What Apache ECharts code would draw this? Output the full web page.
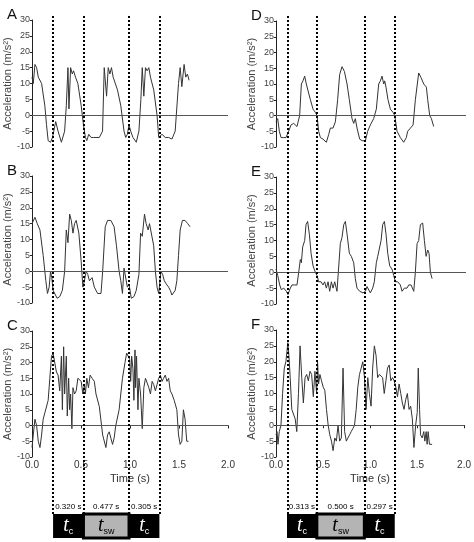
<!DOCTYPE html>
<html>
<head>
<meta charset="utf-8">
<script src="https://cdn.jsdelivr.net/npm/echarts@6/dist/echarts.min.js"></script>
<style>html,body{margin:0;padding:0;background:#fff}#main{width:474px;height:542px}</style>
</head>
<body>
<div id="main"></div>
<script>
// panel A
var aT = [0,.013,.03,.047,.064,.098,.131,.148,.165,.189,.209,.222,.242,.266,.30,.333,.35,.367,.377,.394,.411,.424,.444,.468,.502,.525,.545,.559,.579,.603,.626,.653,.687,.72,.737,.761,.778,.795,.811,.828,.848,.872,.906,.939,.956,.973,.99,1.007,1.03,1.064,1.091,1.111,1.125,1.141,1.158,1.175,1.192,1.209,1.242,1.276,1.293,1.31,1.327,1.36,1.394,1.428,1.461,1.495,1.512,1.529,1.552,1.569,1.586,1.603];
var aY = [12,10,16,15,12,10,3,-3,-8,-8.5,-7,-5,-2,-5,-8.5,-5,3,15,2,15,13,14,12,10,3,-3,-7,-8,-6,-7,-7,-7,-7,-5,15,6,15,13,15,12,12,8,3,-5,-7,-6,-3,-5,-7,-8.5,-5,5,15,6,15,14,15,12,8,0,-7,-7,-6,-7,-7,-7.5,-5,10,15,9,16,12,13,11];
// panel B
var bT = [0,.03,.054,.081,.114,.141,.158,.175,.189,.202,.215,.232,.256,.283,.31,.333,.35,.367,.384,.401,.418,.434,.451,.478,.502,.519,.535,.552,.569,.586,.613,.636,.67,.704,.721,.747,.771,.805,.838,.862,.889,.906,.923,.939,.956,.973,.99,1.013,1.04,1.064,1.091,1.108,1.125,1.148,1.165,1.185,1.199,1.219,1.242,1.259,1.276,1.293,1.316,1.333,1.35,1.37,1.394,1.411,1.428,1.461,1.478,1.495,1.512,1.535,1.562,1.589,1.613];
var bY = [15,17,15,13,5,-3,-7,-5,0,-2,-6,-6,-8.5,-8,-6,0,13,9,18,16,12,15,16,12,3,-5,-3,0,-1,-3,-2,-5,-7,-7,0,14,16,16,14,8,0,-3,-7,1,1,-5,-4,-8.5,-8,-6,-1,12,11,18,15,13,15,15,8,0,-5,-7,0,-1,-3,-4,-5,-6,-7.5,-6,-3,5,13,16,16,15,14];
// panel C
var cT = [0,.013,.03,.047,.064,.081,.098,.114,.131,.148,.165,.182,.199,.215,.232,.249,.266,.283,.30,.31,.323,.333,.35,.36,.374,.384,.394,.407,.418,.434,.451,.468,.485,.502,.519,.535,.545,.559,.576,.593,.613,.636,.653,.687,.721,.754,.771,.788,.805,.822,.838,.855,.889,.923,.949,.966,.983,.997,1.007,1.017,1.03,1.04,1.051,1.057,1.067,1.081,1.091,1.108,1.125,1.141,1.158,1.175,1.192,1.209,1.226,1.242,1.259,1.276,1.293,1.31,1.327,1.343,1.36,1.377,1.394,1.411,1.428,1.451,1.478,1.495,1.512,1.529,1.545,1.562,1.579,1.596];
var cY = [-7,-3,2,0,-5,-7,-3,2,4,4.5,8,15,22,23,23,17,16,11,22,5,25,10,22,3,15,5,10,-1,12,10,11,15,15,14,10,13,10,15,12,16,15,14,10,6,-3,-7,-3,-2,-4,-6,-4,0,5,15,20,23,23,21,14,22,18,8,24,12,22,5,15,10,-1,12,15,15,12,10,14,13,11,13,15,16,14,15,16,14,15,11,10,8,5,-3,-6,-5,5,2,-5,-5];
// panel D
var dT = [0,.018,.035,.053,.081,.105,.133,.158,.186,.221,.249,.267,.284,.302,.319,.337,.362,.39,.414,.432,.449,.467,.495,.53,.555,.572,.60,.625,.649,.67,.695,.72,.748,.772,.80,.818,.835,.853,.881,.906,.941,.965,.993,1.028,1.056,1.081,1.099,1.116,1.134,1.144,1.158,1.179,1.204,1.232,1.25,1.274,1.309,1.344,1.372,1.386,1.415,1.443,1.467,1.502,1.527,1.555,1.583,1.597,1.618,1.636,1.66];
var dY = [-2,-1,-5,-7,-7,-7,-5,-3,-2.5,-3.5,0,10,11,12.5,10,10,5,2,1,0,-5,-7,-7.5,-8.5,-6,-4,-4,-2,5,13,15.5,14,10,5,-1,-2.5,-1,-4,-7.5,-8,-8,-5,-3,-1,2,10,11,12.5,10,11,9,5,2,1,0,-5,-7,-8.5,-7,-5,-4,-3,5,13.5,12,10,9,5,0,-1,-3.5];
// panel E
var eT = [0,.018,.039,.056,.081,.109,.126,.151,.168,.193,.221,.239,.256,.267,.281,.302,.316,.333,.351,.369,.39,.414,.432,.449,.474,.495,.512,.53,.548,.565,.583,.60,.618,.642,.66,.677,.695,.713,.73,.748,.772,.793,.818,.835,.853,.881,.916,.941,.958,.993,1.018,1.035,1.056,1.071,1.088,1.106,1.123,1.141,1.158,1.176,1.197,1.221,1.239,1.257,1.281,1.309,1.327,1.351,1.379,1.397,1.422,1.45,1.467,1.485,1.502,1.52,1.544,1.562,1.58,1.597,1.611,1.625,1.643];
var eY = [1,-1,-4,-5.5,-5,-6,-7,-5,-4,-4,-4,0,4,3,8,10,15,16,12,6,2,0,-1,-3,-3,-4,-3,-5,-3,-6,-3,-5,-3,-6,-6,9,11,15,16,12,6,5,3,-2,-5,-6,-6.5,-6,-4.5,-6.5,-5,-3,3,5,5,10,15,16,12,6,2,1,-1,-3,-3,-4,-6,-5,-5,-4,-4,-6,0,9,10,15,15.5,10,5,7,6,0,-2];
// panel F
var fT = [0,.011,.021,.035,.053,.07,.088,.105,.116,.126,.137,.151,.168,.186,.204,.221,.239,.256,.274,.291,.309,.326,.344,.362,.379,.397,.414,.432,.442,.453,.467,.484,.502,.519,.537,.555,.572,.59,.607,.625,.642,.66,.677,.695,.713,.73,.748,.765,.783,.80,.818,.835,.853,.87,.888,.906,.923,.941,.958,.976,.993,1.011,1.028,1.046,1.064,1.081,1.099,1.116,1.134,1.151,1.169,1.186,1.204,1.221,1.239,1.257,1.274,1.292,1.309,1.327,1.344,1.362,1.379,1.397,1.415,1.432,1.45,1.467,1.485,1.502,1.513,1.527,1.537,1.555,1.572,1.583,1.597,1.607,1.618,1.632,1.66];
var fY = [-3,-2,-6,-2,0,10,18,20,20,26,22,15,5,5,2,-2,10,25,15,7,15,16,14,17,16,9,17,10,20,13,16,14,12,11,5,0,-3,-5,-8,-4,-5,0,-5,-4,18,-2,-5,-4,-3,-2,-1,0,5,12,16,18,20,15,5,15,10,6,18,25,22,15,16,16,15,10,14,18,19,14,15,14,12,9,13,10,7,5,8,10,5,6,2,-7,0,4,18,5,-3,-4,-2,-5,-2,-6,-2,-6,-6];

// stance/swing event times and labels
var leftEvents = [0.215, 0.525, 0.99, 1.30];
var rightEvents = [0.116, 0.43, 0.93, 1.25];
var leftDur = ['0.320 s', '0.477 s', '0.305 s'];
var rightDur = ['0.313 s', '0.500 s', '0.297 s'];
var phaseNames = ['c', 'sw', 'c'];
var xTicks = [0, 0.5, 1.0, 1.5, 2.0];

var panels = [
	{ name: 'A', t: aT, y: aY, left: 32, width: 196, top: 20, height: 127, axis: false },
	{ name: 'B', t: bT, y: bY, left: 32, width: 196, top: 176, height: 127, axis: false },
	{ name: 'C', t: cT, y: cY, left: 32, width: 196, top: 331, height: 126, axis: true },
	{ name: 'D', t: dT, y: dY, left: 276, width: 190, top: 21, height: 126, axis: false },
	{ name: 'E', t: eT, y: eY, left: 276, width: 190, top: 177, height: 127, axis: false },
	{ name: 'F', t: fT, y: fY, left: 276, width: 190, top: 330, height: 127, axis: true }
];

var grids = [], xAxes = [], yAxes = [], series = [], titles = [];

function zip(t, y) {
	var out = [];
	for (var i = 0; i < t.length; i++) out.push([t[i], y[i]]);
	return out;
}

panels.forEach(function(p, i) {
	grids.push({ left: p.left, width: p.width, top: p.top, height: p.height });
	xAxes.push({
		gridIndex: i, type: 'value', min: 0, max: 2, interval: 0.5, show: p.axis,
		axisLine: { lineStyle: { color: '#222' } },
		axisTick: { length: 3, lineStyle: { color: '#222' } },
		axisLabel: { fontSize: 10, color: '#333', margin: 3, formatter: function(v) { return v.toFixed(1); } },
		splitLine: { show: false },
		name: 'Time (s)', nameLocation: 'middle', nameGap: 16,
		nameTextStyle: { fontSize: 11, color: '#333', fontFamily: 'Liberation Sans' }
	});
	yAxes.push({
		gridIndex: i, type: 'value', min: -10, max: 30, interval: 5,
		axisLine: { show: true, lineStyle: { color: '#222' } },
		axisTick: { show: true, length: 2, lineStyle: { color: '#222' } },
		axisLabel: { fontSize: 9, color: '#444', margin: 2 },
		splitLine: { show: false },
		name: 'Acceleration (m/s²)', nameLocation: 'middle', nameGap: 18,
		nameTextStyle: { fontSize: 11, color: '#444', fontFamily: 'Liberation Sans' }
	});
	series.push({
		type: 'line', xAxisIndex: i, yAxisIndex: i, data: zip(p.t, p.y),
		showSymbol: false, lineStyle: { color: '#333', width: 1 }, z: 3,
		markLine: {
			silent: true, symbol: 'none', label: { show: false },
			lineStyle: { color: '#555', width: 1, type: 'solid' },
			data: [{ yAxis: 0 }]
		}
	});
	titles.push({
		text: p.name, left: p.left - 30, top: p.top - 18,
		textStyle: { fontSize: 15, fontWeight: 'normal', color: '#111', fontFamily: 'Liberation Sans' }
	});
});

// dotted event lines and phase boxes per column
function addColumn(left, width, events, durs) {
	var gi = grids.length;
	grids.push({ left: left, width: width, top: 15, height: 499 });
	xAxes.push({ gridIndex: gi, type: 'value', min: 0, max: 2, show: false });
	yAxes.push({ gridIndex: gi, type: 'value', min: 0, max: 1, show: false });
	series.push({
		type: 'line', xAxisIndex: gi, yAxisIndex: gi, data: [], z: 5,
		markLine: {
			silent: true, symbol: 'none', label: { show: false },
			lineStyle: { color: '#000', width: 2, type: [2, 2] },
			data: events.map(function(e) { return { xAxis: e }; })
		}
	});
	var bi = grids.length;
	grids.push({ left: left, width: width, top: 514, height: 24 });
	xAxes.push({ gridIndex: bi, type: 'value', min: 0, max: 2, show: false });
	yAxes.push({ gridIndex: bi, type: 'value', min: 0, max: 1, show: false });
	var areas = [], tops = [];
	for (var k = 0; k < 3; k++) {
		var sw = phaseNames[k] === 'sw';
		areas.push([{
			xAxis: events[k],
			itemStyle: sw ? { color: '#b4b4b4', borderColor: '#000', borderWidth: 3 } : { color: '#000' },
			label: {
				show: true, position: 'inside',
				formatter: '{t|t}{s|' + phaseNames[k] + '}',
				rich: {
					t: { fontSize: 20, fontStyle: 'italic', color: sw ? '#000' : '#fff', fontFamily: 'Liberation Serif' },
					s: { fontSize: 9, color: sw ? '#000' : '#fff', padding: [12, 0, 0, 0], fontFamily: 'Liberation Sans' }
				}
			}
		}, { xAxis: events[k + 1] }]);
		tops.push([{
			xAxis: events[k],
			itemStyle: { color: 'transparent' },
			label: { show: true, position: 'top', distance: 3, formatter: durs[k], fontSize: 8, color: '#000' }
		}, { xAxis: events[k + 1] }]);
	}
	series.push({
		type: 'line', xAxisIndex: bi, yAxisIndex: bi, data: [], z: 4,
		markArea: { silent: true, data: areas }
	});
	series.push({
		type: 'line', xAxisIndex: bi, yAxisIndex: bi, data: [], z: 4,
		markArea: { silent: true, data: tops }
	});
}
addColumn(32, 196, leftEvents, leftDur);
addColumn(276, 190, rightEvents, rightDur);

var chart = echarts.init(document.getElementById('main'));
chart.setOption({
	animation: false,
	textStyle: { fontFamily: 'Liberation Sans' },
	title: titles,
	grid: grids,
	xAxis: xAxes,
	yAxis: yAxes,
	series: series
});
</script>
</body>
</html>
